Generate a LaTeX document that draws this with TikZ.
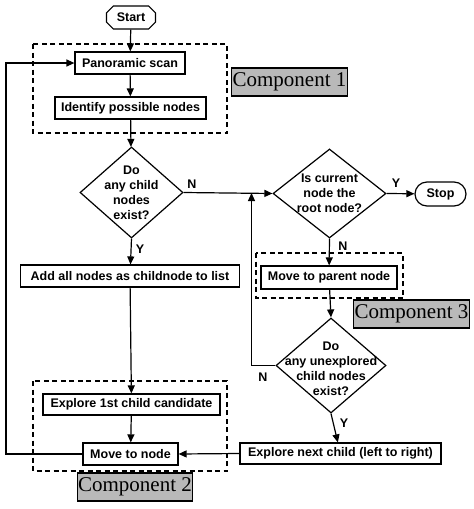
\documentclass[tikz,border=0pt]{standalone}
\usepackage{fontspec}
\newfontfamily\arialfont{Liberation Sans}
\newfontfamily\timesfont{Liberation Serif}
\usetikzlibrary{arrows.meta,shapes.geometric,shapes.misc}
\begin{document}
\begin{tikzpicture}[x=1pt,y=-1pt,line width=1.2pt,
	>={Triangle[length=8pt,width=7pt]},
	every node/.style={font=\arialfont\bfseries\fontsize{12.5}{15}\selectfont},
	proc/.style={rectangle, draw, minimum height=22pt, inner sep=1pt},
	decision/.style={diamond, draw, inner sep=0pt},
	dtext/.style={align=center, inner sep=0pt},
	comp/.style={rectangle, draw, fill=gray!55, inner sep=1pt, font=\timesfont\fontsize{21}{22}\selectfont},
	compbox/.style={dashed, dash pattern=on 5pt off 3.5pt, line width=1.2pt},
	yn/.style={inner sep=0pt}]
	\useasboundingbox (0,0) rectangle (474,509);
	\draw[compbox] (33,44) rectangle (227,133);
	\draw[compbox] (33,381) rectangle (227,471);
	\draw[compbox] (256,253) rectangle (403,298);
	\node (Start) at (131,17.5)	[chamfered rectangle, chamfered rectangle xsep=4pt, draw, minimum width=49pt, minimum height=23pt, inner sep=1pt]	{Start};
	\node (Pano) at (130,63)	[proc, minimum width=110pt]	{Panoramic scan};
	\node (Ident) at (130.5,108)	[proc, minimum width=151pt]	{Identify possible nodes};
	\node (D1) at (131.5,192.5)	[decision, minimum width=103pt, minimum height=91pt]	{};
	\node (D1t) at (D1)	[dtext]	{Do\\any child\\nodes\\exist?};
	\node (Add) at (130,276)	[proc, minimum width=219pt]	{Add all nodes as childnode to list};
	\node (Expl1) at (131.5,404.5)	[proc, minimum width=177pt, minimum height=21pt]	{Explore 1st child candidate};
	\node (Move) at (130.5,454)	[proc, minimum width=95pt]	{Move to node};
	\node (D2) at (329.5,193.5)	[decision, minimum width=113pt, minimum height=89pt]	{};
	\node (D2t) at (D2)	[dtext]	{Is current\\node the\\root node?};
	\node (Stop) at (440.5,194)	[rounded rectangle, draw, minimum width=53pt, minimum height=24pt, inner sep=1pt]	{Stop};
	\node (Parent) at (329,277.5)	[proc, minimum width=136pt, minimum height=23pt]	{Move to parent node};
	\node (D3) at (331,365.5)	[decision, minimum width=110pt, minimum height=95pt]	{};
	\node (D3t) at ([yshift=-3pt]D3)	[dtext]	{Do\\any unexplored\\child nodes\\exist?};
	\node (Next) at (340.5,453.5)	[proc, minimum width=201pt, minimum height=21pt]	{Explore next child (left to right)};
	\node (C1) at (289.5,82)	[comp, minimum width=113pt, minimum height=28pt]	{Component 1};
	\node (C2) at (135,487)	[comp, minimum width=114pt, minimum height=28pt]	{Component 2};
	\node (C3) at (411.5,314)	[comp, minimum width=113pt, minimum height=28pt]	{Component 3};
	\coordinate (J1) at (251.5,193);
	\coordinate (L1) at (6,63);
	\draw[->] (Start) -- (Pano);
	\draw[->] (Pano) -- (Ident);
	\draw[->] (Ident) -- (D1);
	\draw[->] (D1.east) -- (D2.west);
	\draw[->] (D2.east) -- (Stop);
	\draw[->] (D2.south) -- (Parent);
	\draw[->] (Parent) -- (D3.north);
	\draw[->] (D3.west) -| (J1);
	\draw[->] (D3.south) -- (Next);
	\draw[->] (Next.west) -- (Move.east);
	\draw[->] (D1.south) -- (Add);
	\draw[->] (Add) -- (Expl1);
	\draw[->] (Expl1) -- (Move);
	\draw[->] (Move.west) -| (L1) -- (Pano.west);
	\node (N1) at (192,184)	[yn]	{N};
	\node (Y1) at (140,249)	[yn]	{Y};
	\node (Y2) at (396,183)	[yn]	{Y};
	\node (N2) at (343,246)	[yn]	{N};
	\node (N3) at (263,377)	[yn]	{N};
	\node (Y3) at (344,423)	[yn]	{Y};
\end{tikzpicture}
\end{document}
